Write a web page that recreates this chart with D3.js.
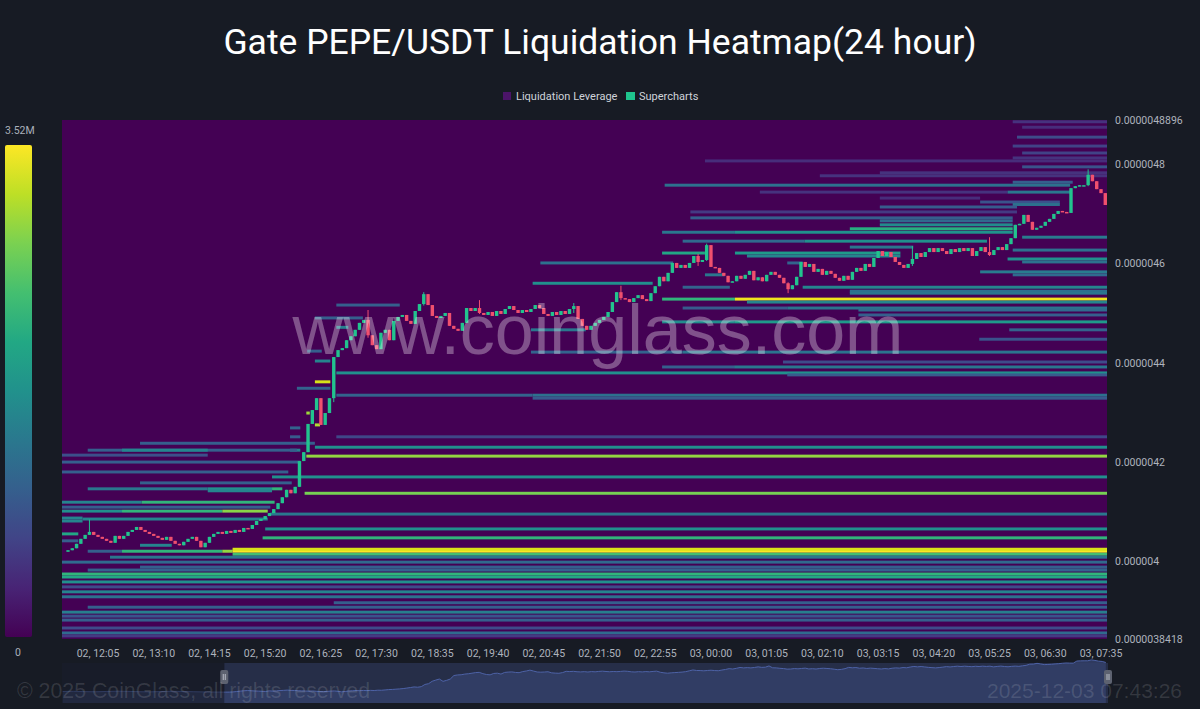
<!DOCTYPE html>
<html><head><meta charset="utf-8">
<script src="https://cdn.jsdelivr.net/npm/d3@7"></script>
<style>
html,body{margin:0;padding:0;background:#171b24;}
svg{display:block;font-family:Roboto,"Liberation Sans",Arial,sans-serif;}
</style></head><body>
<svg id="chart" width="1200" height="709"></svg>
<script>
// ---------------- DATA ----------------
// prices in units of 1e-9 USDT; times in minutes from 02 00:00
const title = "Gate PEPE/USDT Liquidation Heatmap(24 hour)";
const legendItems = ["Liquidation Leverage", "Supercharts"];
const candleStart = 690;      // 02, 11:30
const candleInterval = 5;     // minutes
const firstOpen = 4018;
const closes = [
4021,4025,4034,4044,4052,4058,4052,4048,4044,4040,
4036,4050,4044,4050,4058,4062,4068,4062,4058,4054,
4050,4046,4042,4048,4040,4034,4031,4038,4044,4048,
4040,4027,4036,4048,4054,4058,4054,4060,4056,4062,
4058,4066,4064,4072,4080,4084,4090,4096,4104,4116,
4128,4143,4136,4149,4201,4219,4276,4304,4328,4274,
4298,4328,4411,4425,4429,4445,4453,4466,4480,4486,
4455,4435,4427,4460,4466,4445,4484,4492,4496,4484,
4478,4504,4518,4538,4516,4494,4490,4494,4500,4474,
4468,4464,4480,4510,4504,4510,4500,4496,4502,4494,
4504,4498,4508,4514,4506,4500,4506,4502,4508,4516,
4510,4498,4494,4502,4496,4504,4498,4508,4514,4488,
4474,4466,4474,4480,4486,4492,4502,4522,4542,4530,
4528,4522,4530,4536,4528,4524,4540,4554,4573,4564,
4581,4601,4591,4597,4591,4601,4615,4603,4607,4637,
4593,4591,4581,4575,4562,4564,4575,4569,4577,4585,
4566,4572,4564,4577,4583,4577,4571,4560,4548,4556,
4573,4603,4593,4599,4583,4589,4577,4585,4579,4571,
4565,4575,4567,4583,4591,4585,4599,4593,4611,4625,
4615,4623,4613,4603,4597,4591,4599,4609,4621,4613,
4623,4631,4623,4631,4625,4619,4629,4623,4631,4625,
4631,4615,4625,4633,4623,4617,4627,4633,4627,4639,
4651,4678,4680,4698,4684,4668,4672,4676,4684,4690,
4700,4706,4704,4702,4752,4756,4758,4758,4779,4766,
4750,4742,4718];
// [candle index, high, low]
const wicks = [[5,4083,4052],[62,4411,4320],[70,4506,4450],[83,4542,4515],[96,4526,4498],
[118,4520,4500],[129,4555,4526],[147,4619,4595],[149,4640,4605],[168,4562,4540],
[197,4635,4595],[215,4653,4615],[238,4790,4756]];

// liquidation bands: [price, start time, end time, leverage (M)]
const bands = [
[4886,1792,1902,0.5],[4875,1803,1902,0.45],[4855,1797,1902,0.8],[4837,1792,1902,0.7],
[4823,1803,1902,0.7],[4813,1792,1902,0.5],[4807,1433,1902,0.45],[4795,1803,1902,0.9],
[4783,1637,1902,0.5],[4777,1567,1902,0.5],[4764,1792,1862,1.05],[4758,1386,1859,1.3],
[4744,1497,1786,0.5],[4744,1786,1859,1.4],[4732,1637,1754,0.45],[4724,1754,1847,0.9],
[4719,1792,1847,1.3],[4714,1637,1797,1.0],[4704,1416,1797,0.6],[4692,1416,1792,1.05],
[4686,1637,1792,1.2],[4678,1637,1792,1.7],[4670,1602,1792,2.2],[4663,1383,1468,1.4],
[4663,1468,1792,1.8],[4653,1803,1902,1.45],[4645,1407,1549,1.2],[4645,1549,1762,1.75],
[4633,1602,1676,1.4],[4627,1792,1902,1.3],[4621,1383,1433,2.1],[4621,1468,1661,1.9],
[4615,1482,1661,1.6],[4609,1786,1902,1.75],[4603,1803,1902,1.3],[4601,1241,1396,1.3],
[4601,1529,1547,1.1],[4583,1754,1902,1.45],[4577,1433,1456,1.4],[4577,1792,1902,1.2],
[4560,1232,1372,1.75],[4552,1547,1902,1.6],[4552,1407,1462,1.1],[4544,1602,1902,1.3],
[4540,1602,1902,1.4],[4528,1383,1468,2.3],[4528,1468,1902,3.45],[4522,1482,1902,1.6],
[4510,1407,1529,1.0],[4510,1529,1902,1.35],[4506,1612,1902,1.2],[4496,1612,1902,1.05],
[4482,1383,1468,1.7],[4482,1468,1902,1.9],[4466,1230,1294,1.4],[4466,1788,1902,1.1],
[4447,1753,1902,0.9],[4421,1230,1407,1.1],[4421,1407,1902,1.35],[4401,1524,1902,0.8],
[4391,1383,1467,1.05],[4391,1467,1902,1.4],[4379,1003,1902,1.75],[4375,1529,1902,1.0],
[4334,1003,1232,1.1],[4334,1232,1902,1.3],[4328,1232,1902,1.0],[4250,1003,1902,0.75],
[4229,978,1902,1.75],[4211,968,1902,2.95],
[4516,1003,1077,1.05],[4490,978,1034,1.05],[4471,1003,1017,1.5],[4423,969,986,1.05],
[4403,978,996,1.6],[4361,978,996,3.3],[4348,957,996,1.1],[4298,968,972,3.0],
[4274,978,984,3.1],[4268,949,961,1.1],[4250,949,961,1.0],[4223,949,961,1.5],
[4237,774,978,1.05],[4223,713,957,1.05],[4223,753,853,1.6],[4213,683,853,0.85],
[4199,683,961,1.05],[4179,683,947,1.05],[4169,928,1902,1.75],[4157,774,951,1.05],
[4145,713,853,1.4],[4145,853,928,1.75],[4145,928,940,2.3],[4141,853,928,1.6],
[4136,966,1902,2.8],[4118,683,776,1.6],[4118,776,931,2.3],[4108,683,926,1.05],
[4100,683,753,1.75],[4100,753,870,2.3],[4100,870,923,2.9],[4094,926,1902,1.4],
[4086,683,707,1.6],[4080,683,707,1.6],[4084,707,923,1.6],[4064,920,1902,1.75],
[4054,683,702,2.1],[4046,917,1902,2.3],[4040,683,702,1.05],[4031,774,811,1.6],
[4019,713,753,1.05],[4019,753,870,2.3],[4019,870,882,2.95],[4019,882,1902,3.52],
[4023,882,1902,3.3],[4013,882,1902,2.45],[4007,739,1902,1.4],[3997,683,1902,1.2],
[3987,774,1902,1.05],[3981,713,1902,1.1],[3973,683,1902,2.3],[3967,683,1902,2.1],
[3957,683,1902,1.75],[3947,683,1902,0.8],[3937,683,1902,1.6],[3927,683,1902,1.3],
[3915,1000,1902,1.05],[3906,713,1902,1.05],[3896,683,1902,1.5],[3888,683,1902,0.9],
[3880,683,1902,1.05],[3864,683,1902,0.8],[3854,683,1902,1.2],[3848,683,1902,0.6]
];
const colorMax = 3.52;
const colorLabels = ["3.52M", "0"];

const priceTicks = [4889.6, 4800, 4600, 4400, 4200, 4000, 3841.8];
const priceTickLabels = ["0.0000048896","0.0000048","0.0000046","0.0000044","0.0000042","0.000004","0.0000038418"];
const timeTicks = [725,790,855,920,985,1050,1115,1180,1245,1310,1375,1440,1505,1570,1635,1700,1765,1830,1895];
const timeTickLabels = ["02, 12:05","02, 13:10","02, 14:15","02, 15:20","02, 16:25","02, 17:30","02, 18:35",
"02, 19:40","02, 20:45","02, 21:50","02, 22:55","03, 00:00","03, 01:05","03, 02:10","03, 03:15",
"03, 04:20","03, 05:25","03, 06:30","03, 07:35"];

// navigator: earlier prices (every 15 min from 02, 07:40)
const navEarlyStart = 460;
const navEarlyInterval = 15;
const navEarly = [4035,4040,4032,4028,4036,4042,4038,4030,4026,4034,4040,4036,4030,4025,4022,4020];
const watermark = "www.coinglass.com";
const footerLeft = "\u00A9 2025 CoinGlass, all rights reserved";
const footerRight = "2025-12-03 07:43:26";

// ---------------- CHART ----------------
const svg = d3.select("#chart");
const W = 1200, H = 709;
const plot = {l: 62, r: 1107, t: 120, b: 639};
const x = d3.scaleLinear().domain([683, 1902]).range([plot.l, plot.r]);
const y = d3.scaleLinear().domain([3841.8, 4889.6]).range([plot.b, plot.t]);
const color = v => d3.interpolateViridis(Math.max(0, Math.min(1, v / colorMax)));

svg.append("rect").attr("width", W).attr("height", H).attr("fill", "#171b24");

// title
svg.append("text").attr("x", 600).attr("y", 54).attr("text-anchor", "middle")
  .attr("fill", "#ffffff").attr("font-size", 35.5).text(title);

// legend
const lg = svg.append("g").attr("font-size", 11).attr("fill", "#cfd3da");
lg.append("rect").attr("x", 503).attr("y", 92).attr("width", 8).attr("height", 8).attr("fill", "#4b1468");
lg.append("text").attr("x", 516).attr("y", 100).text(legendItems[0]);
lg.append("rect").attr("x", 626).attr("y", 92).attr("width", 9).attr("height", 8).attr("fill", "#1fc58e");
lg.append("text").attr("x", 639).attr("y", 100).text(legendItems[1]);

// clip
const defs = svg.append("defs");
defs.append("clipPath").attr("id", "clip").append("rect")
  .attr("x", plot.l).attr("y", plot.t).attr("width", plot.r - plot.l).attr("height", plot.b - plot.t);

// color bar gradient
const grad = defs.append("linearGradient").attr("id", "cbar").attr("x1", 0).attr("y1", 0).attr("x2", 0).attr("y2", 1);
d3.range(0, 11).forEach(i => {
  grad.append("stop").attr("offset", (i * 10) + "%").attr("stop-color", d3.interpolateViridis(1 - i / 10));
});
svg.append("rect").attr("x", 5).attr("y", 145).attr("width", 27).attr("height", 492).attr("rx", 2)
  .attr("fill", "url(#cbar)");
svg.append("text").attr("x", 5).attr("y", 134).attr("font-size", 10.5).attr("fill", "#aab0ba").text(colorLabels[0]);
svg.append("text").attr("x", 18).attr("y", 656).attr("font-size", 10.5).attr("text-anchor", "middle").attr("fill", "#aab0ba").text(colorLabels[1]);

// heatmap
const hm = svg.append("g").attr("clip-path", "url(#clip)");
hm.append("rect").attr("x", plot.l).attr("y", plot.t).attr("width", plot.r - plot.l).attr("height", plot.b - plot.t)
  .attr("fill", d3.interpolateViridis(0));
const half = 3.0;
hm.selectAll("rect.band").data(bands).join("rect").attr("class", "band")
  .attr("x", d => x(d[1])).attr("width", d => Math.max(1, x(d[2]) - x(d[1])))
  .attr("y", d => y(d[0] + half)).attr("height", d => y(d[0] - half) - y(d[0] + half))
  .attr("fill", d => color(d[3]));

// candles
const wickMap = new Map(wicks.map(w => [w[0], w]));
const candles = closes.map((c, i) => {
  const o = i === 0 ? firstOpen : closes[i - 1];
  const w = wickMap.get(i);
  let hi = Math.max(o, c), lo = Math.min(o, c);
  if (w) { hi = Math.max(hi, w[1]); lo = Math.min(lo, w[2]); }
  return {t: candleStart + i * candleInterval, o, c, hi, lo};
});
const green = "#22c38e", red = "#f0506e";
const cg = svg.append("g").attr("clip-path", "url(#clip)");
cg.selectAll("line").data(candles).join("line")
  .attr("x1", d => x(d.t)).attr("x2", d => x(d.t))
  .attr("y1", d => y(d.hi)).attr("y2", d => y(d.lo))
  .attr("stroke", d => d.c >= d.o ? green : red).attr("stroke-width", 1);
cg.selectAll("rect").data(candles).join("rect")
  .attr("x", d => x(d.t) - 1.7).attr("width", 3.4)
  .attr("y", d => y(Math.max(d.o, d.c)))
  .attr("height", d => Math.max(1.5, Math.abs(y(d.o) - y(d.c))))
  .attr("fill", d => d.c >= d.o ? green : red);

// watermark
svg.append("text").attr("x", 598).attr("y", 354).attr("text-anchor", "middle")
  .attr("font-family", "'Liberation Sans', Arial, sans-serif").attr("font-size", 70)
  .attr("fill", "#ffffff").attr("fill-opacity", 0.32).text(watermark);

// right axis
const ra = svg.append("g").attr("font-size", 10.5).attr("fill", "#aeb3bd");
ra.selectAll("text").data(priceTicks).join("text")
  .attr("x", 1115).attr("y", d => y(d) + 4).text((d, i) => priceTickLabels[i]);

// bottom axis
const ba = svg.append("g").attr("font-size", 10.5).attr("fill", "#aeb3bd").attr("text-anchor", "middle");
ba.selectAll("text").data(timeTicks).join("text")
  .attr("x", d => x(d)).attr("y", 657).text((d, i) => timeTickLabels[i]);

// navigator
const navSeries = navEarly.map((v, i) => ({t: navEarlyStart + i * navEarlyInterval, v}))
  .concat(candles.map(d => ({t: d.t, v: d.c})));
const nx = d3.scaleLinear().domain([459, 1903]).range([62, 1108]);
const ny = d3.scaleLinear().domain([4000, 4800]).range([693, 659]);
const navTop = 663, navBot = 703;
svg.append("rect").attr("x", 62).attr("y", navTop).attr("width", 1046).attr("height", navBot - navTop).attr("fill", "#1c2130");
const selX0 = nx(683), selX1 = nx(1903);
svg.append("rect").attr("x", selX0).attr("y", navTop).attr("width", selX1 - selX0).attr("height", navBot - navTop).attr("fill", "#262e48");
const area = d3.area().x(d => nx(d.t)).y0(navBot).y1(d => ny(d.v)).curve(d3.curveLinear);
svg.append("path").datum(navSeries).attr("d", area).attr("fill", "#34406a").attr("fill-opacity", 0.85);
svg.append("path").datum(navSeries).attr("d", d3.line().x(d => nx(d.t)).y(d => ny(d.v)))
  .attr("fill", "none").attr("stroke", "#4d62a6").attr("stroke-width", 1);
svg.append("rect").attr("x", 62).attr("y", navTop).attr("width", selX0 - 62).attr("height", navBot - navTop)
  .attr("fill", "#161a24").attr("fill-opacity", 0.55);
[selX0, selX1].forEach(hx => {
  svg.append("rect").attr("x", hx - 4).attr("y", 670).attr("width", 8).attr("height", 14).attr("rx", 2).attr("fill", "#5d6270");
  svg.append("line").attr("x1", hx - 1).attr("x2", hx - 1).attr("y1", 674).attr("y2", 680).attr("stroke", "#b8bcc6");
  svg.append("line").attr("x1", hx + 1).attr("x2", hx + 1).attr("y1", 674).attr("y2", 680).attr("stroke", "#b8bcc6");
});

// footer watermarks
svg.append("text").attr("x", 17).attr("y", 698).attr("font-size", 21.3)
  .attr("font-family", "'Liberation Sans', Arial, sans-serif")
  .attr("fill", "#ffffff").attr("fill-opacity", 0.13).text(footerLeft);
svg.append("text").attr("x", 1182).attr("y", 698).attr("font-size", 21).attr("text-anchor", "end")
  .attr("font-family", "'Liberation Sans', Arial, sans-serif")
  .attr("fill", "#ffffff").attr("fill-opacity", 0.13).text(footerRight);
</script>
</body></html>
